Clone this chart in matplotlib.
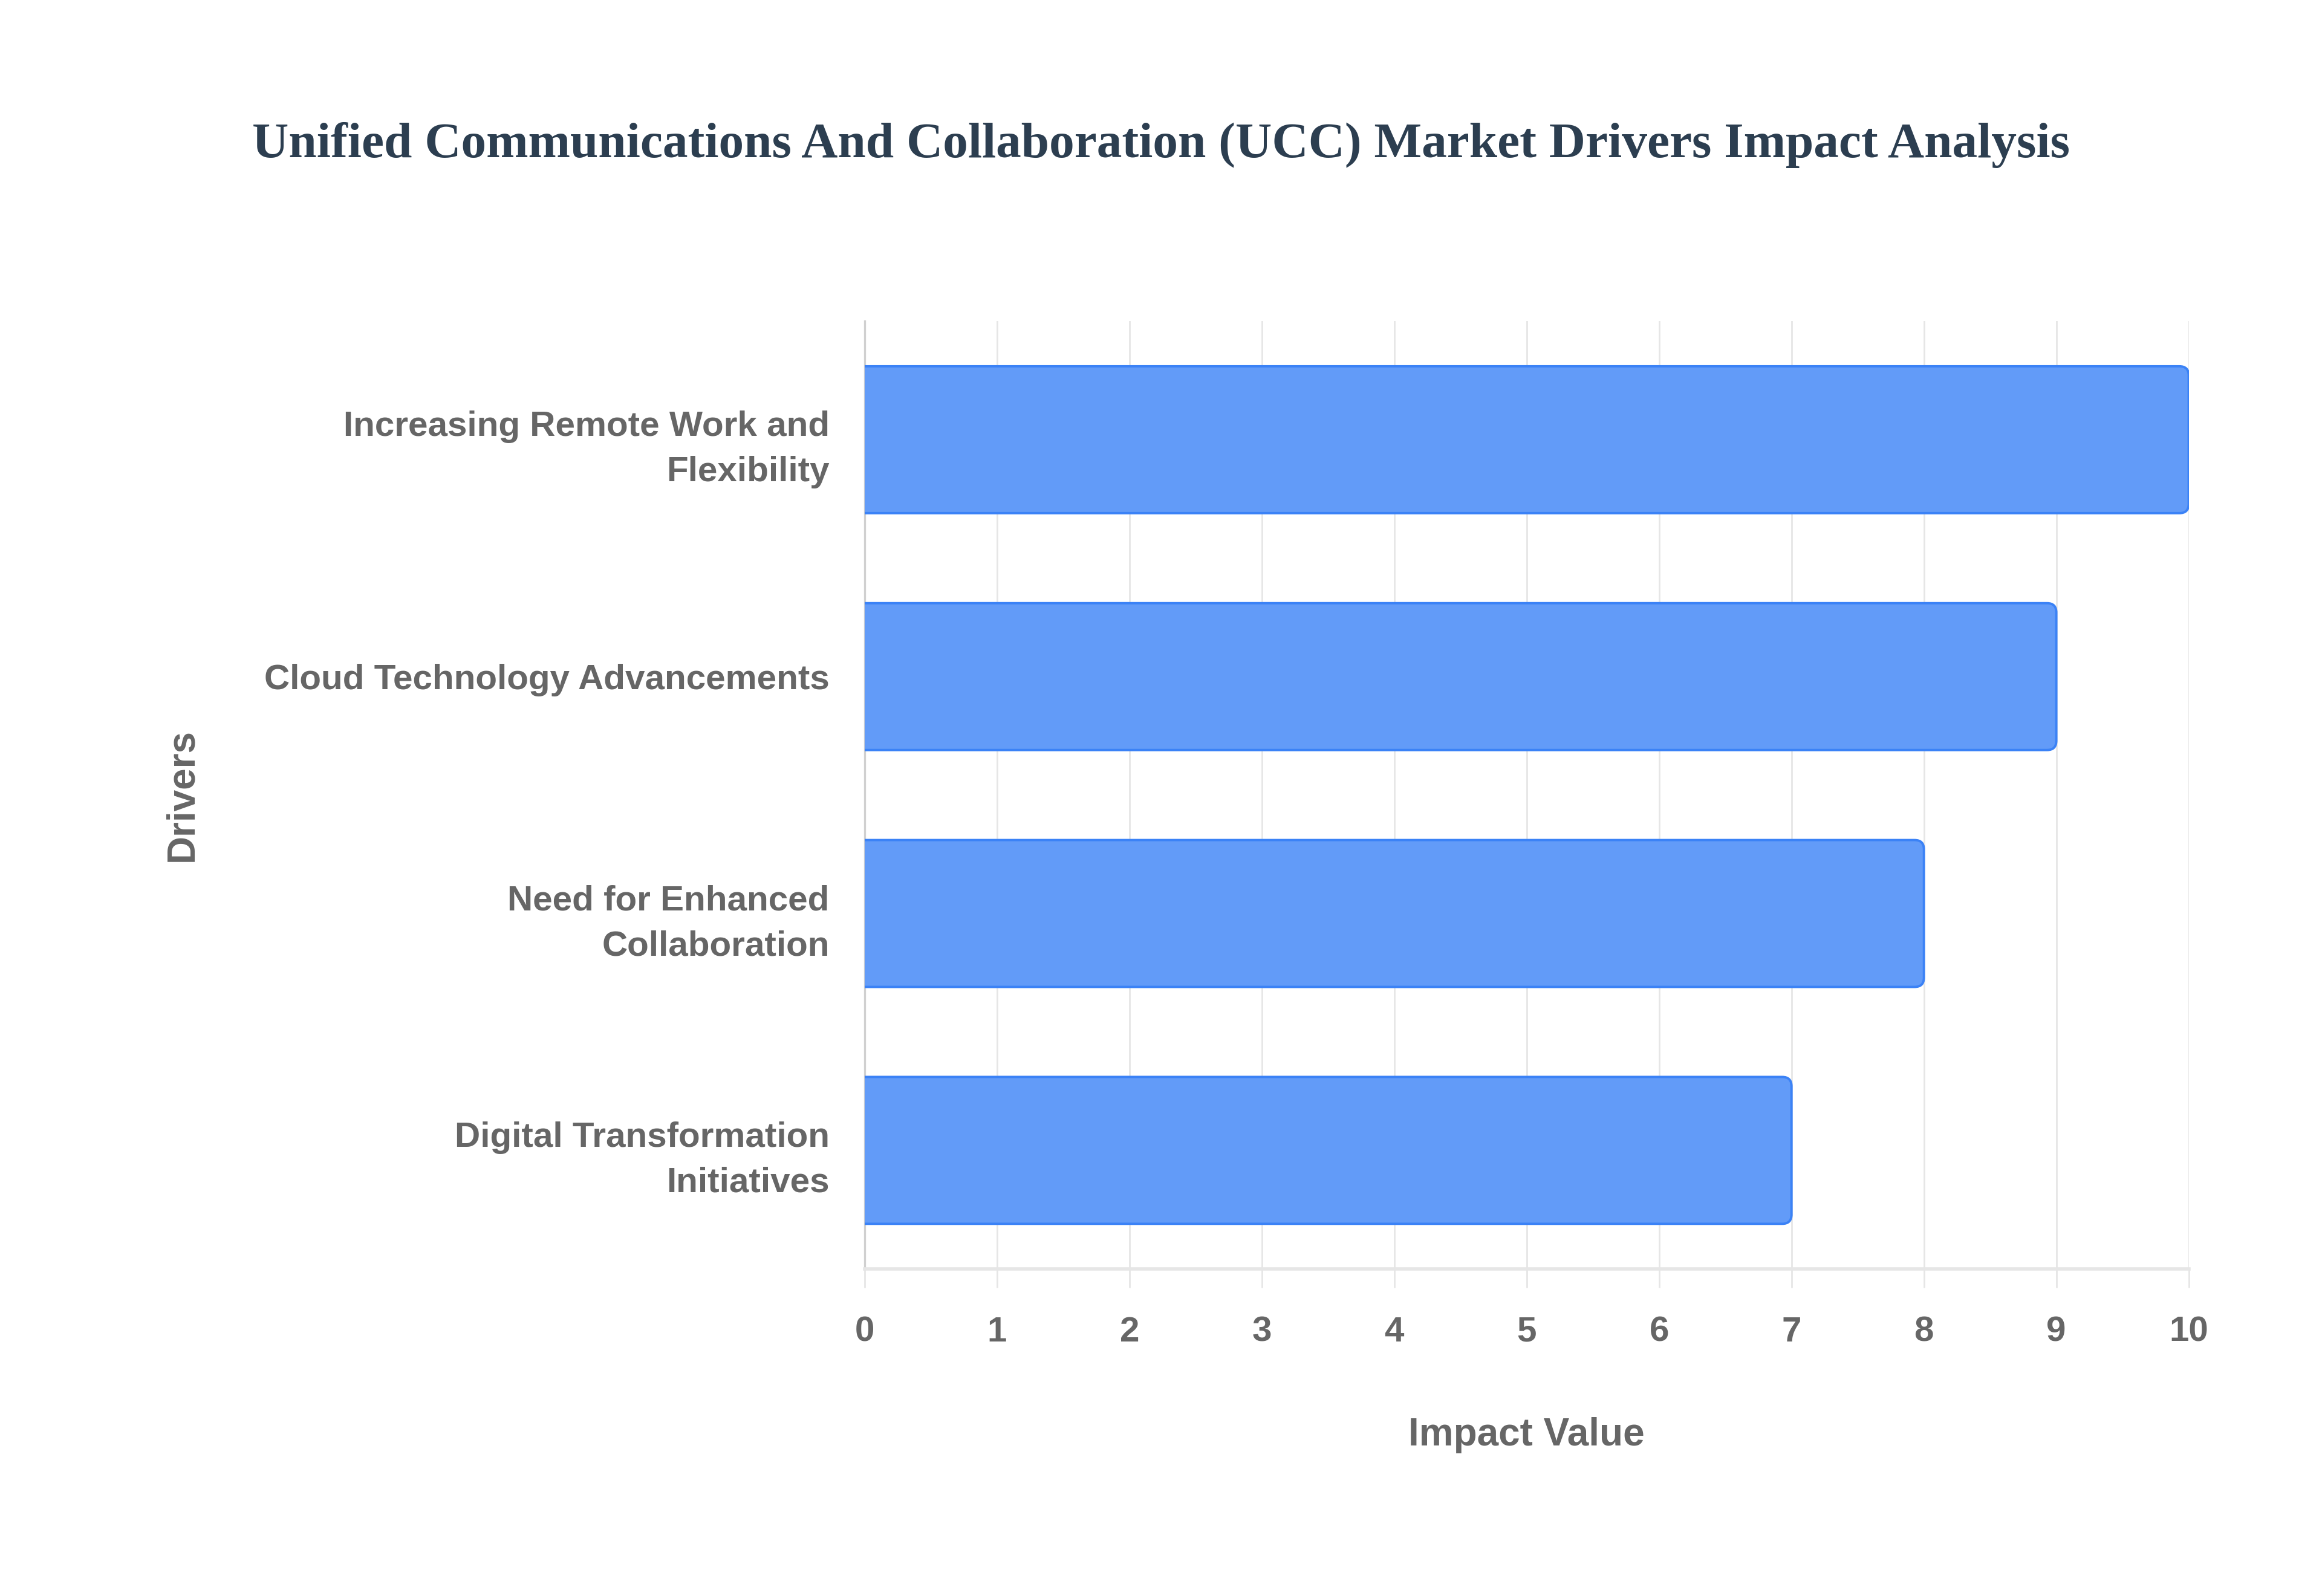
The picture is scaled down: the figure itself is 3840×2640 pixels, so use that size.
import matplotlib
matplotlib.use("Agg")
import matplotlib.pyplot as plt
from matplotlib.patches import FancyBboxPatch

# data
drivers = [
    "Increasing Remote Work and\nFlexibility",
    "Cloud Technology Advancements",
    "Need for Enhanced\nCollaboration",
    "Digital Transformation\nInitiatives",
]
impact = [10, 9, 8, 7]

TITLE = "Unified Communications And Collaboration (UCC) Market Drivers Impact Analysis"
BAR_FILL = "#629bf8"
BAR_EDGE = "#3b82f6"
TEXT_GREY = "#666666"
GRID = "#e6e6e6"

plt.rcParams["font.family"] = ["Liberation Sans", "DejaVu Sans"]

fig = plt.figure(figsize=(19.2, 13.2), dpi=200)
ax = fig.add_axes([0.3724, 0.205, 0.5702, 0.5937])

bar_h = 0.62
for i, (name, v) in enumerate(zip(drivers, impact)):
    # start left of 0 so only the right end shows rounded corners (clipped by axes)
    p = FancyBboxPatch((-0.3, i - bar_h / 2), v + 0.3, bar_h,
                       boxstyle="round,pad=0,rounding_size=0.07",
                       mutation_aspect=0.56,
                       facecolor=BAR_FILL, edgecolor=BAR_EDGE, linewidth=1.4,
                       zorder=3)
    ax.add_patch(p)

ax.set_xlim(0, 10)
ax.set_ylim(len(drivers) - 0.5, -0.5)
ax.set_xticks(range(0, 11))
ax.set_yticks(range(len(drivers)))
ax.set_yticklabels(drivers, ha="right", linespacing=1.5)

for s in ["top", "right"]:
    ax.spines[s].set_visible(False)
ax.spines["left"].set_color("#d0d0d0")
ax.spines["left"].set_linewidth(1.2)
ax.spines["bottom"].set_color(GRID)
ax.spines["bottom"].set_linewidth(2.0)

ax.grid(axis="x", color=GRID, linewidth=1.0, zorder=0)
ax.set_axisbelow(True)

ax.tick_params(axis="x", length=11, width=1.0, color=GRID, pad=17,
               labelsize=21, labelcolor=TEXT_GREY)
ax.tick_params(axis="y", length=0, pad=21, labelsize=21, labelcolor=TEXT_GREY)
for lab in ax.get_xticklabels() + ax.get_yticklabels():
    lab.set_fontweight("bold")

ax.set_xlabel("Impact Value", fontsize=23, fontweight="bold", color=TEXT_GREY, labelpad=41)
ax.set_ylabel("Drivers", fontsize=23, fontweight="bold", color=TEXT_GREY)
ax.yaxis.set_label_coords(-0.502, 0.5)

fig.text(0.5, 0.909, TITLE, ha="center", va="center", fontsize=30, fontweight="bold",
         color="#2c3e50", family=["Liberation Serif", "DejaVu Serif"])

fig.savefig("out.png", dpi=200, facecolor="white")
